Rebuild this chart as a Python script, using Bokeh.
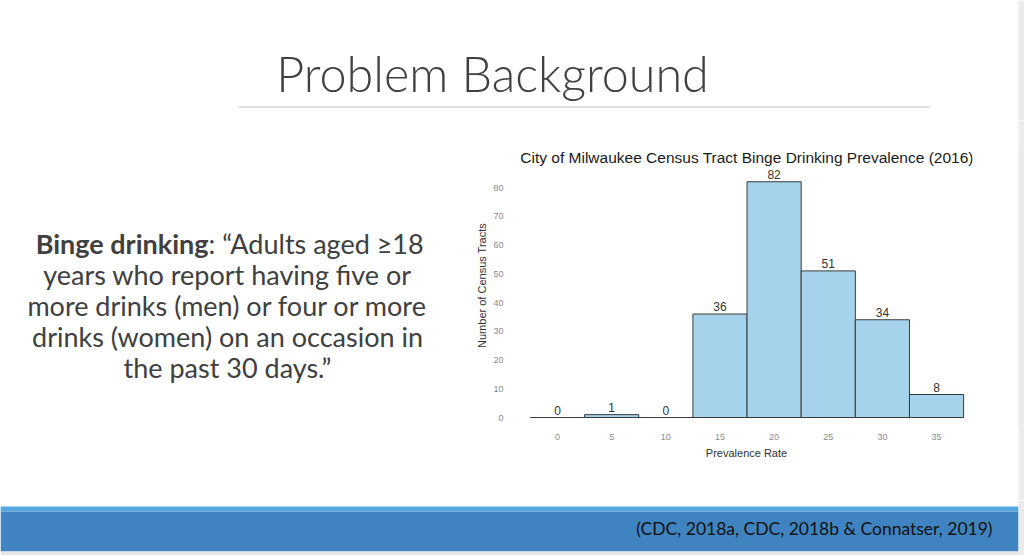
from bokeh.plotting import figure
from bokeh.models import Range1d, FixedTicker, Label
from bokeh.layouts import column, row
from bokeh.core.properties import value
from bokeh.embed import file_html
from bokeh.resources import INLINE

# ---- data ----
bins = [0, 5, 10, 15, 20, 25, 30, 35]
counts = [0, 1, 0, 36, 82, 51, 34, 8]
count_labels = [str(c) for c in counts]
y_ticks = [0, 10, 20, 30, 40, 50, 60, 70, 80]
chart_title = "City of Milwaukee Census Tract Binge Drinking Prevalence (2016)"
x_label = "Prevalence Rate"
y_label = "Number of Census Tracts"
slide_title = "Problem Background"
body_bold = "Binge drinking"
body_lines = [
    ": \u201cAdults aged \u226518",
    "years who report having five or",
    "more drinks (men) or four or more",
    "drinks (women) on an occasion in",
    "the past 30 days.\u201d",
]
citation = "(CDC, 2018a, CDC, 2018b & Connatser, 2019)"

TXT = "#404040"
BODY_FONT = "Lato"
BODY_SIZE = "27px"


def deco(w, h, x0, x1, y_top, y_bottom, **kw):
    f = figure(width=w, height=h, x_range=Range1d(x0, x1), y_range=Range1d(y_bottom, y_top),
               x_axis_type=None, y_axis_type=None, output_backend="svg",
               toolbar_location=None, **kw)
    f.grid.visible = False
    f.outline_line_color = None
    f.background_fill_color = "white"
    f.border_fill_color = "white"
    return f


# ---- top: slide title ----
top = deco(1024, 120, 0, 1024, 0, 120, min_border=0)
top.quad(left=[1018], right=[1024], top=[0], bottom=[120], fill_color="#ebebeb", line_color=None)
top.segment(x0=[238], y0=[106.5], x1=[930], y1=[106.5], line_color="#d9d9d9", line_width=1.5)
top.text(x=[492], y=[72], text=[slide_title], text_align="center", text_baseline="middle",
         text_font=value("Lato Light"), text_font_size="48.5px", text_color=TXT)

# ---- left: definition text (frame aligned with the histogram frame: y 145..425) ----
left = deco(470, 380, 0, 470, 145, 425, min_border_left=0, min_border_right=0,
            min_border_top=25, min_border_bottom=75)
line_y = [243, 274, 305, 336, 367]
left.text(x=[208], y=[line_y[0]], text=[body_bold], text_align="right", text_baseline="middle",
          text_font=value(BODY_FONT), text_font_style="bold", text_font_size=BODY_SIZE, text_color=TXT)
left.text(x=[208], y=[line_y[0]], text=[body_lines[0]], text_align="left", text_baseline="middle",
          text_font=value(BODY_FONT), text_font_size=BODY_SIZE, text_color=TXT)
left.text(x=[227] * 4, y=line_y[1:], text=body_lines[1:], text_align="center", text_baseline="middle",
          text_font=value(BODY_FONT), text_font_size=BODY_SIZE, text_color=TXT)

# ---- histogram ----
hist = figure(width=548, height=380, x_range=Range1d(-3.42, 38.32), y_range=Range1d(-2.78, 94.61),
              output_backend="svg", toolbar_location=None,
              min_border_left=50, min_border_right=46, min_border_top=25, min_border_bottom=75)
hist.grid.visible = False
hist.outline_line_color = None
hist.background_fill_color = "white"
hist.border_fill_color = "white"
hist.vbar(x=bins, width=5, top=counts, bottom=0, fill_color="#a6d3ec", line_color="#3a3a3a", line_width=1)
hist.text(x=bins, y=counts, text=count_labels, y_offset=-3, text_align="center", text_baseline="bottom",
          text_font=value("Liberation Sans"), text_font_size="12px", text_color="#333333")
hist.add_layout(Label(x=(bins[0] + bins[-1]) / 2, y=90.4, text=chart_title, text_align="center",
                      text_baseline="middle", text_font="Liberation Sans", text_font_size="15.5px",
                      text_color="#1a1a1a"))
for ax in (hist.xaxis[0], hist.yaxis[0]):
    ax.axis_line_color = None
    ax.major_tick_line_color = None
    ax.minor_tick_line_color = None
    ax.major_tick_out = 0
    ax.major_tick_in = 0
    ax.major_label_text_font = "Liberation Sans"
    ax.major_label_text_font_size = "9px"
    ax.major_label_text_color = "#8a8a8a"
    ax.axis_label_text_font = "Liberation Sans"
    ax.axis_label_text_font_size = "11px"
    ax.axis_label_text_font_style = "normal"
    ax.axis_label_text_color = "#333333"
hist.xaxis.ticker = FixedTicker(ticks=bins)
hist.yaxis.ticker = FixedTicker(ticks=y_ticks)
hist.xaxis.axis_label = x_label
hist.yaxis.axis_label = y_label
hist.xaxis.major_label_standoff = 8
hist.xaxis.axis_label_standoff = 4
hist.yaxis.major_label_standoff = 17
hist.yaxis.axis_label_standoff = 2

strip = deco(6, 380, 0, 6, 145, 425, min_border_left=0, min_border_right=0,
             min_border_top=25, min_border_bottom=75)
strip.background_fill_color = "#ebebeb"
strip.border_fill_color = "#ebebeb"

# ---- bottom band ----
bottom = deco(1024, 55, 0, 1024, 500, 555, min_border=0)
bottom.quad(left=[0], right=[1018], top=[506], bottom=[511], fill_color="#55a9de", line_color=None)
bottom.quad(left=[0], right=[1018], top=[511], bottom=[551], fill_color="#3f83c0", line_color=None)
bottom.quad(left=[0], right=[1024], top=[551], bottom=[555], fill_color="#e6e6e6", line_color=None)
bottom.quad(left=[1018], right=[1024], top=[500], bottom=[555], fill_color="#ebebeb", line_color=None)
bottom.text(x=[992], y=[528], text=[citation], text_align="right", text_baseline="middle",
            text_font=value(BODY_FONT), text_font_size="17.5px", text_color="#111111")

layout = column(top, row(left, hist, strip), bottom)
open("out.html", "w").write(file_html(layout, INLINE))
